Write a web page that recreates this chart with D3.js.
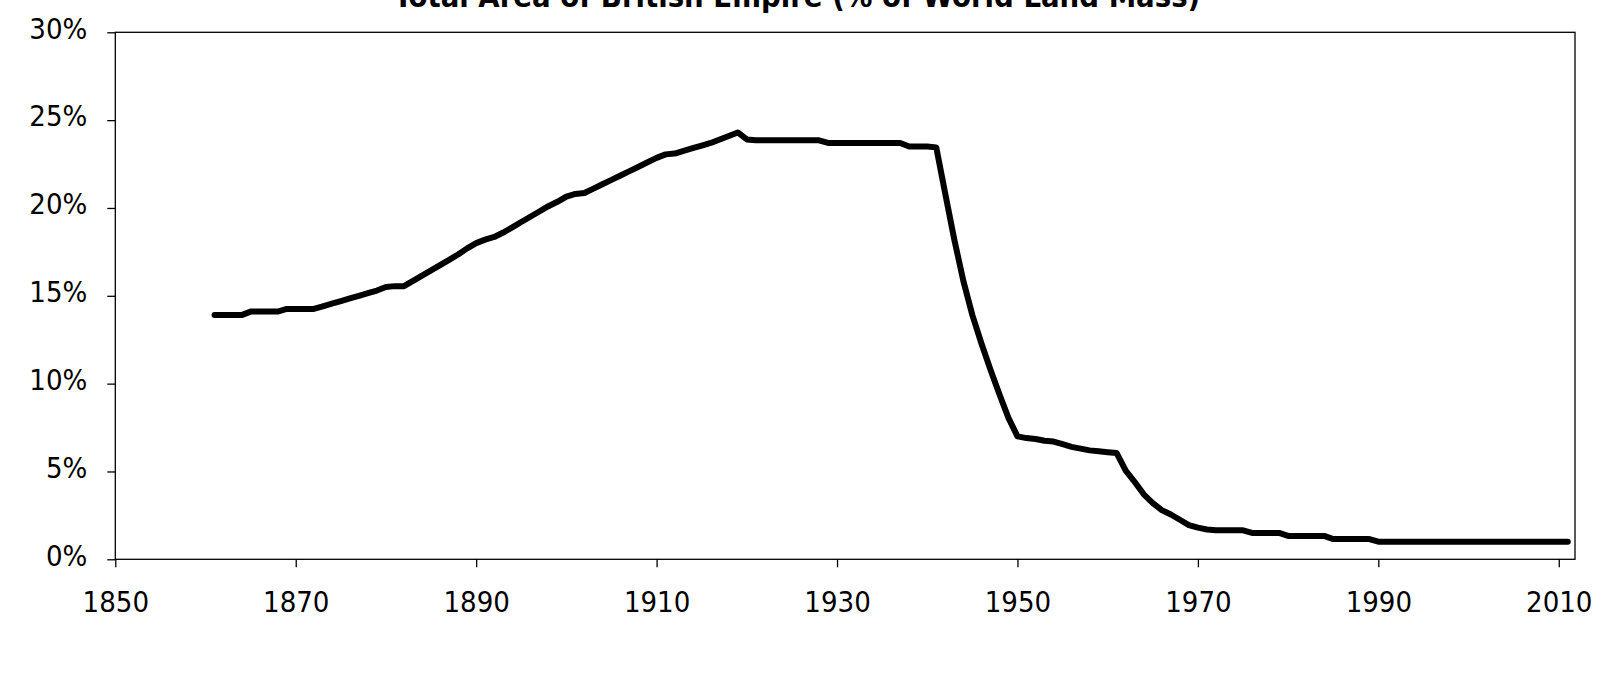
<!DOCTYPE html>
<html>
<head>
<meta charset="utf-8">
<script src="https://cdn.jsdelivr.net/npm/d3@7"></script>
<style>
  body { margin: 0; background: #fff; }
  text { font-family: "DejaVu Sans Condensed", "DejaVu Sans", sans-serif; font-stretch: condensed; }
</style>
</head>
<body>
<div id="chart"></div>
<script>
// years and share of world land mass (%)
var years = [
  1861,1862,1863,1864,1865,1866,1867,1868,1869,1870,
  1871,1872,1873,1874,1875,1876,1877,1878,1879,1880,
  1881,1882,1883,1884,1885,1886,1887,1888,1889,1890,
  1891,1892,1893,1894,1895,1896,1897,1898,1899,1900,
  1901,1902,1903,1904,1905,1906,1907,1908,1909,1910,
  1911,1912,1913,1914,1915,1916,1917,1918,1919,1920,
  1921,1922,1923,1924,1925,1926,1927,1928,1929,1930,
  1931,1932,1933,1934,1935,1936,1937,1938,1939,1940,
  1941,1942,1943,1944,1945,1946,1947,1948,1949,1950,
  1951,1952,1953,1954,1955,1956,1957,1958,1959,1960,
  1961,1962,1963,1964,1965,1966,1967,1968,1969,1970,
  1971,1972,1973,1974,1975,1976,1977,1978,1979,1980,
  1981,1982,1983,1984,1985,1986,1987,1988,1989,1990,
  1991,1992,1993,1994,1995,1996,1997,1998,1999,2000,
  2001,2002,2003,2004,2005,2006,2007,2008,2009,2010,
  2011
];
var share = [
  13.9,13.9,13.9,13.9,14.1,14.1,14.1,14.1,14.25,14.25,
  14.25,14.25,14.4,14.55,14.7,14.85,15.0,15.15,15.3,15.5,
  15.55,15.55,15.85,16.15,16.45,16.75,17.05,17.35,17.7,18.0,
  18.2,18.35,18.6,18.9,19.2,19.5,19.8,20.1,20.35,20.65,
  20.8,20.85,21.1,21.35,21.6,21.85,22.1,22.35,22.6,22.85,
  23.05,23.1,23.25,23.4,23.55,23.7,23.9,24.1,24.3,23.9,
  23.85,23.85,23.85,23.85,23.85,23.85,23.85,23.85,23.7,23.7,
  23.7,23.7,23.7,23.7,23.7,23.7,23.7,23.5,23.5,23.5,
  23.45,20.8,18.2,15.85,13.9,12.3,10.8,9.4,8.05,7.0,
  6.9,6.85,6.75,6.7,6.55,6.4,6.3,6.2,6.15,6.1,
  6.05,5.05,4.4,3.7,3.2,2.8,2.55,2.25,1.95,1.8,
  1.7,1.65,1.65,1.65,1.65,1.5,1.5,1.5,1.5,1.33,
  1.33,1.33,1.33,1.33,1.15,1.15,1.15,1.15,1.15,1.0,
  1.0,1.0,1.0,1.0,1.0,1.0,1.0,1.0,1.0,1.0,
  1.0,1.0,1.0,1.0,1.0,1.0,1.0,1.0,1.0,1.0,
  1.0
];
var xTicks = [1850, 1870, 1890, 1910, 1930, 1950, 1970, 1990, 2010];
var yTicks = [0, 5, 10, 15, 20, 25, 30];
var title = "Total Area of British Empire (% of World Land Mass)";

var W = 1612, H = 699;
var margin = {top: 32.3, right: 37, bottom: 139.7, left: 115.3},
  width = W - margin.left - margin.right,
  height = H - margin.top - margin.bottom;

var svg = d3.select("#chart")
  .append("svg")
  .attr("width", W)
  .attr("height", H);

var g = svg.append("g")
  .attr("transform", "translate(" + margin.left + "," + margin.top + ")");

var x = d3.scaleLinear().domain([1850, 2011.8]).range([0, width]);
var y = d3.scaleLinear().domain([0, 30]).range([height, 0]);

// plot frame
g.append("rect")
  .attr("width", width)
  .attr("height", height)
  .attr("fill", "none")
  .attr("stroke", "#000")
  .attr("stroke-width", 1.3);

// Y axis
var yAxis = g.append("g")
  .call(d3.axisLeft(y).tickValues(yTicks).tickSize(8).tickPadding(20)
    .tickFormat(function(d) { return d + "%"; }));
// X axis
var xAxis = g.append("g")
  .attr("transform", "translate(0," + height + ")")
  .call(d3.axisBottom(x).tickValues(xTicks).tickSize(8).tickPadding(24)
    .tickFormat(d3.format("d")));

[yAxis, xAxis].forEach(function(a) {
  a.select(".domain").remove();
  a.selectAll("line").attr("stroke", "#000").attr("stroke-width", 1.3);
  a.selectAll("text")
    .attr("fill", "#000")
    .style("font-size", "29px");
});
yAxis.selectAll("text").attr("dy", "0.2em");

// the line
var data = years.map(function(d, i) { return {year: d, v: share[i]}; });
g.append("path")
  .datum(data)
  .attr("fill", "none")
  .attr("stroke", "#000")
  .attr("stroke-width", 6)
  .attr("stroke-linejoin", "round")
  .attr("stroke-linecap", "round")
  .attr("d", d3.line()
    .x(function(d) { return x(d.year); })
    .y(function(d) { return y(d.v); }));

// title (partly above the page edge, as in the original)
svg.append("text")
  .attr("x", 797)
  .attr("y", 7)
  .attr("text-anchor", "middle")
  .style("font-size", "30.7px")
  .style("font-weight", "bold")
  .attr("fill", "#000")
  .text(title);
</script>
</body>
</html>
